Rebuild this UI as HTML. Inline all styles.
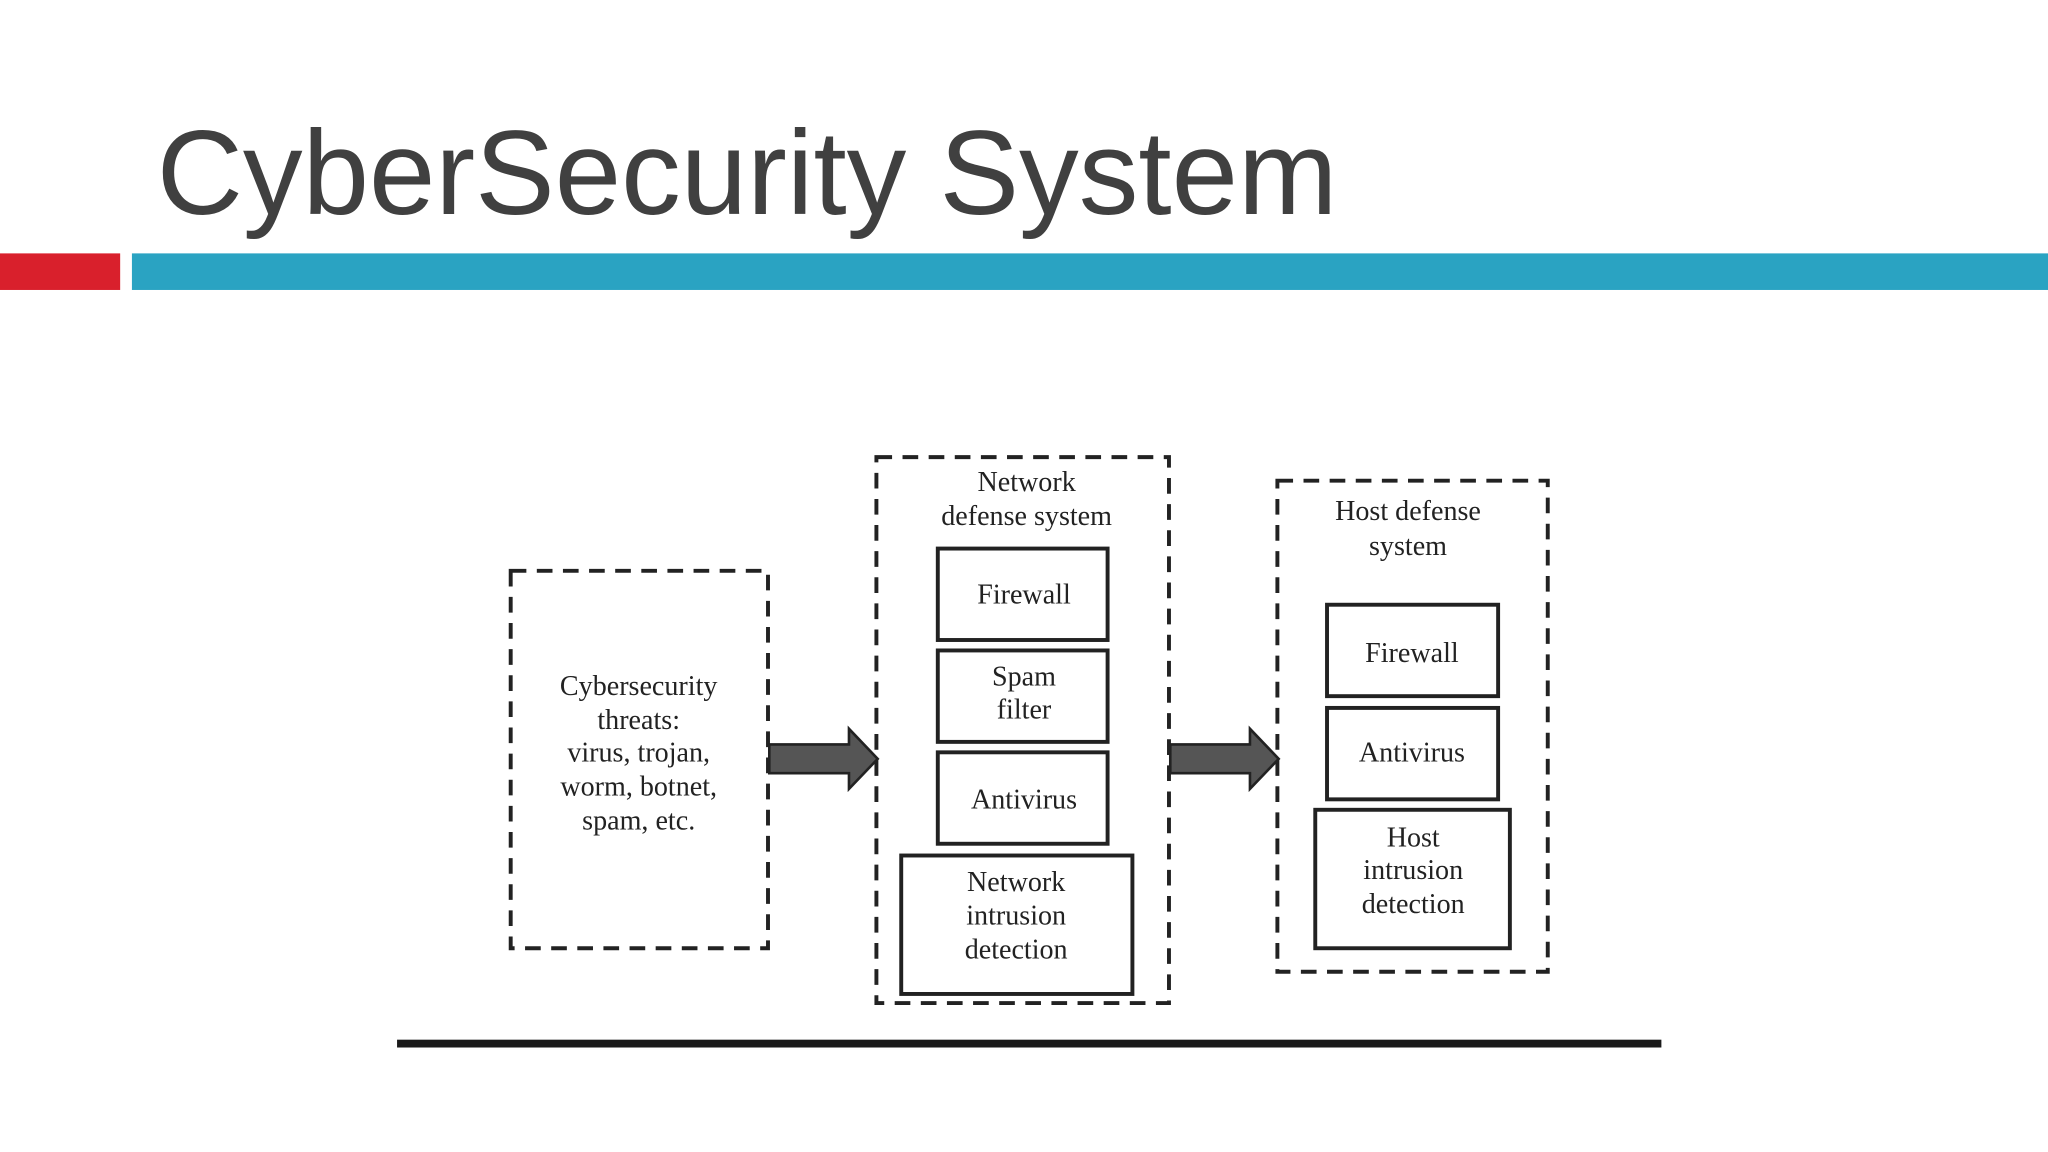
<!DOCTYPE html>
<html><head><style>
html,body{margin:0;padding:0;background:#fff;}
svg{display:block;}
</style></head><body>
<svg width="2048" height="1152" viewBox="0 0 1568 882" xmlns="http://www.w3.org/2000/svg">
<rect width="1568" height="882" fill="#fff"/>
<text x="120" y="164" font-family="Liberation Sans, sans-serif" font-size="91.4" fill="#404040">CyberSecurity System</text>
<rect x="0" y="194" width="92" height="28" fill="#d9202c"/>
<rect x="101" y="194" width="1467" height="28" fill="#2aa3c2"/>
<g fill="none" stroke="#222" stroke-width="3" stroke-dasharray="12,8">
<rect x="391" y="437" width="197" height="289"/>
<rect x="671" y="350" width="224" height="418"/>
<rect x="978" y="368" width="207" height="376"/>
</g>
<g fill="#fff" stroke="#222" stroke-width="3">
<rect x="718" y="420" width="130" height="70"/>
<rect x="718" y="498" width="130" height="70"/>
<rect x="718" y="576" width="130" height="70"/>
<rect x="690" y="655" width="177" height="106"/>
<rect x="1016" y="463" width="131" height="70"/>
<rect x="1016" y="542" width="131" height="70"/>
<rect x="1007" y="620" width="149" height="106"/>
</g>
<g fill="#555" stroke="#222" stroke-width="2">
<path d="M589 570 H650 V558 L672 581 L650 604 V592 H589 Z"/>
<path d="M896 570 H957 V558 L979 581 L957 604 V592 H896 Z"/>
</g>
<rect x="304" y="796" width="968" height="6" fill="#1a1a1a"/>
<g font-family="Liberation Serif, serif" font-size="21.5" fill="#222" text-anchor="middle">
<text x="489" y="532">Cybersecurity</text>
<text x="489" y="558">threats:</text>
<text x="489" y="583">virus, trojan,</text>
<text x="489" y="609">worm, botnet,</text>
<text x="489" y="635">spam, etc.</text>
<text x="786" y="376">Network</text>
<text x="786" y="402">defense system</text>
<text x="784" y="462">Firewall</text>
<text x="784" y="525">Spam</text>
<text x="784" y="550">filter</text>
<text x="784" y="619">Antivirus</text>
<text x="778" y="682">Network</text>
<text x="778" y="708">intrusion</text>
<text x="778" y="734">detection</text>
<text x="1078" y="398">Host defense</text>
<text x="1078" y="425">system</text>
<text x="1081" y="507">Firewall</text>
<text x="1081" y="583">Antivirus</text>
<text x="1082" y="648">Host</text>
<text x="1082" y="673">intrusion</text>
<text x="1082" y="699">detection</text>
</g>
</svg>
</body></html>
